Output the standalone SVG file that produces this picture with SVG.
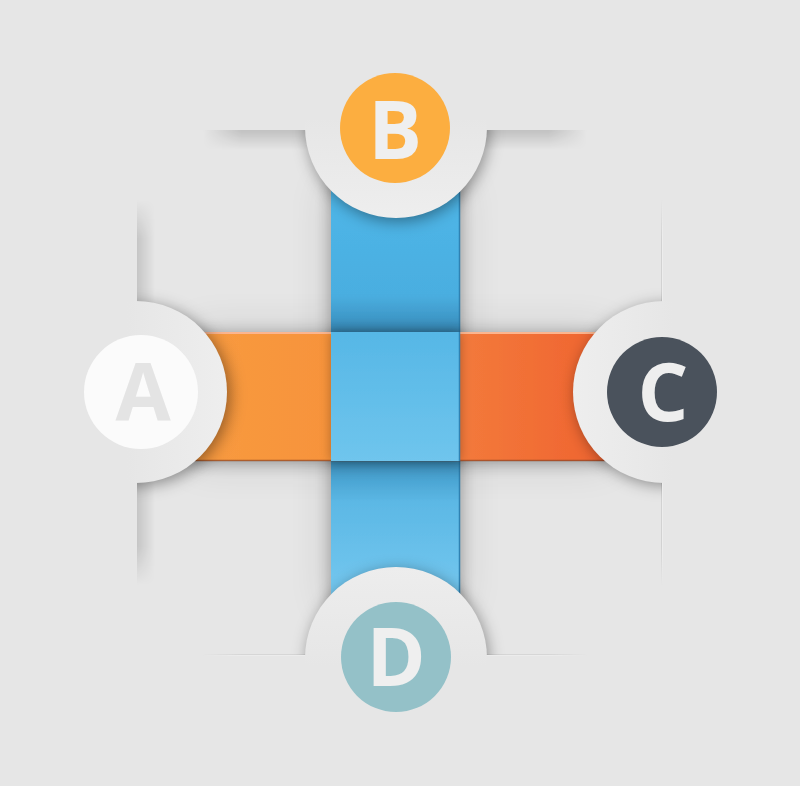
<svg xmlns="http://www.w3.org/2000/svg" width="800" height="786" viewBox="0 0 800 786">
<defs>
<style>
.rsh{fill:#000;fill-opacity:0.42;filter:url(#blur8)}
.lt{font-family:"Open Sans","Liberation Sans",sans-serif;font-weight:700;font-size:80px;text-anchor:middle}
</style>
<clipPath id="recClip"><path d="M203,130H587V200H662V585H587V655H203V585H137V200H203Z"/></clipPath>
<linearGradient id="rgB" x1="0" y1="0" x2="0" y2="1"><stop offset="0.45" stop-color="#e6e6e6"/><stop offset="1" stop-color="#eeeeee"/></linearGradient>
<linearGradient id="rgD" x1="0" y1="1" x2="0" y2="0"><stop offset="0.45" stop-color="#e6e6e6"/><stop offset="1" stop-color="#ededed"/></linearGradient>
<linearGradient id="rgA" x1="0" y1="0" x2="1" y2="0"><stop offset="0.45" stop-color="#e6e6e6"/><stop offset="1" stop-color="#eeeeee"/></linearGradient>
<linearGradient id="rgC" x1="1" y1="0" x2="0" y2="0"><stop offset="0.45" stop-color="#e6e6e6"/><stop offset="1" stop-color="#eeeeee"/></linearGradient>
<linearGradient id="blueOut" gradientUnits="userSpaceOnUse" x1="0" y1="180" x2="0" y2="610">
<stop offset="0" stop-color="#4fb7e9"/><stop offset="0.27" stop-color="#4aaee0"/><stop offset="0.35" stop-color="#3b93c4"/>
<stop offset="0.65" stop-color="#3f9acb"/><stop offset="0.75" stop-color="#5cb8e5"/><stop offset="1" stop-color="#78caf1"/></linearGradient>
<linearGradient id="blueIn" x1="0" y1="0" x2="0" y2="1"><stop offset="0" stop-color="#56b7e6"/><stop offset="1" stop-color="#6fc5ed"/></linearGradient>
<linearGradient id="orG" gradientUnits="userSpaceOnUse" x1="190" y1="0" x2="610" y2="0">
<stop offset="0" stop-color="#f89b40"/><stop offset="0.33" stop-color="#f7933b"/><stop offset="0.64" stop-color="#f37a3b"/><stop offset="1" stop-color="#ef6330"/></linearGradient>
<linearGradient id="shTop" x1="0" y1="0" x2="0" y2="1"><stop offset="0" stop-color="#000" stop-opacity="0.16"/><stop offset="1" stop-color="#000" stop-opacity="0"/></linearGradient>
<linearGradient id="shLeft" x1="0" y1="0" x2="1" y2="0"><stop offset="0" stop-color="#000" stop-opacity="0.14"/><stop offset="1" stop-color="#000" stop-opacity="0"/></linearGradient>
<linearGradient id="fadeH" x1="0" y1="0" x2="1" y2="0"><stop offset="0" stop-color="#fff" stop-opacity="0"/><stop offset="0.1" stop-color="#fff"/><stop offset="0.9" stop-color="#fff"/><stop offset="1" stop-color="#fff" stop-opacity="0"/></linearGradient>
<linearGradient id="fadeV" x1="0" y1="0" x2="0" y2="1"><stop offset="0" stop-color="#fff" stop-opacity="0"/><stop offset="0.1" stop-color="#fff"/><stop offset="0.9" stop-color="#fff"/><stop offset="1" stop-color="#fff" stop-opacity="0"/></linearGradient>
<mask id="mH" maskContentUnits="objectBoundingBox"><rect width="1" height="1" fill="url(#fadeH)"/></mask>
<mask id="mV" maskContentUnits="objectBoundingBox"><rect width="1" height="1" fill="url(#fadeV)"/></mask>
<filter id="blur8" x="-30%" y="-30%" width="160%" height="160%"><feGaussianBlur stdDeviation="8"/></filter>
<filter id="sh" x="-40%" y="-40%" width="180%" height="180%">
<feGaussianBlur in="SourceAlpha" stdDeviation="8" result="b1"/>
<feOffset in="b1" dx="0" dy="2" result="o1"/>
<feComponentTransfer in="o1" result="s1"><feFuncA type="linear" slope="0.3"/></feComponentTransfer>
<feGaussianBlur in="SourceAlpha" stdDeviation="22" result="b2"/>
<feComponentTransfer in="b2" result="s2"><feFuncA type="linear" slope="0.14"/></feComponentTransfer>
<feMerge><feMergeNode in="s2"/><feMergeNode in="s1"/><feMergeNode in="SourceGraphic"/></feMerge>
</filter>
<filter id="shS" x="-30%" y="-30%" width="160%" height="160%">
<feGaussianBlur in="SourceAlpha" stdDeviation="6"/>
<feComponentTransfer><feFuncA type="linear" slope="0.3"/></feComponentTransfer>
<feMerge><feMergeNode/><feMergeNode in="SourceGraphic"/></feMerge>
</filter>
</defs>
<rect width="800" height="786" fill="#e6e6e6"/>
<g id="recess">
<g mask="url(#mH)"><rect x="203" y="130" width="384" height="20" fill="url(#shTop)"/><rect x="203" y="130" width="384" height="1.2" fill="#c3c3c3"/></g>
<g mask="url(#mV)"><rect x="137" y="200" width="18" height="385" fill="url(#shLeft)"/><rect x="137" y="200" width="1.2" height="385" fill="#c6c6c6"/></g>
<g mask="url(#mV)"><rect x="661" y="200" width="1.2" height="385" fill="#d2d2d2"/><rect x="662.2" y="200" width="1" height="385" fill="#f0f0f0"/></g>
<g mask="url(#mH)"><rect x="203" y="654" width="384" height="1.2" fill="#d6d6d6"/><rect x="203" y="655.2" width="384" height="1" fill="#efefef"/></g>
</g>
<g id="connectors" clip-path="url(#recClip)">
<rect id="blue-band" x="331" y="180" width="129" height="430" fill="url(#blueOut)" filter="url(#sh)"/>
<line x1="459.5" y1="180" x2="459.5" y2="610" stroke="#2f82b3" stroke-width="1.5"/>
<rect id="orange-band" x="190" y="332" width="420" height="129" fill="url(#orG)" filter="url(#sh)"/>
<line x1="190" y1="333" x2="610" y2="333" stroke="#fbb58f" stroke-width="2"/>
<line x1="190" y1="460.5" x2="610" y2="460.5" stroke="#8c4426" stroke-width="1.5" stroke-opacity="0.7"/>
<rect id="blue-center" x="331" y="332" width="129" height="129" fill="url(#blueIn)" filter="url(#shS)"/>
<line x1="459.5" y1="332" x2="459.5" y2="461" stroke="#2f82b3" stroke-width="1.5"/>
</g>
<g id="ring-shadows" clip-path="url(#recClip)">
<circle class="rsh" cx="398" cy="131" r="90"/>
<circle class="rsh" cx="140" cy="395" r="90"/>
<circle class="rsh" cx="666" cy="395" r="90"/>
<circle class="rsh" cx="398" cy="661" r="90"/>
</g>
<g id="node-b">
<circle cx="396" cy="127" r="91" fill="url(#rgB)"/>
<circle cx="395" cy="128" r="55" fill="#fcae40"/>
<text class="lt" x="395" y="159" fill="#efefef">B</text>
</g>
<g id="node-a">
<circle cx="136" cy="392" r="91" fill="url(#rgA)"/>
<circle cx="141" cy="392" r="57" fill="#fbfbfb"/>
<text class="lt" x="143" y="421" fill="#e4e4e4">A</text>
</g>
<g id="node-c">
<circle cx="664" cy="392" r="91" fill="url(#rgC)"/>
<circle cx="662" cy="392" r="55" fill="#4a525c"/>
<text class="lt" x="663" y="421" fill="#eeeeee">C</text>
</g>
<g id="node-d">
<circle cx="396" cy="658" r="91" fill="url(#rgD)"/>
<circle cx="396" cy="657" r="55" fill="#94c1c8"/>
<text class="lt" x="396" y="686" fill="#efefef">D</text>
</g>
</svg>
